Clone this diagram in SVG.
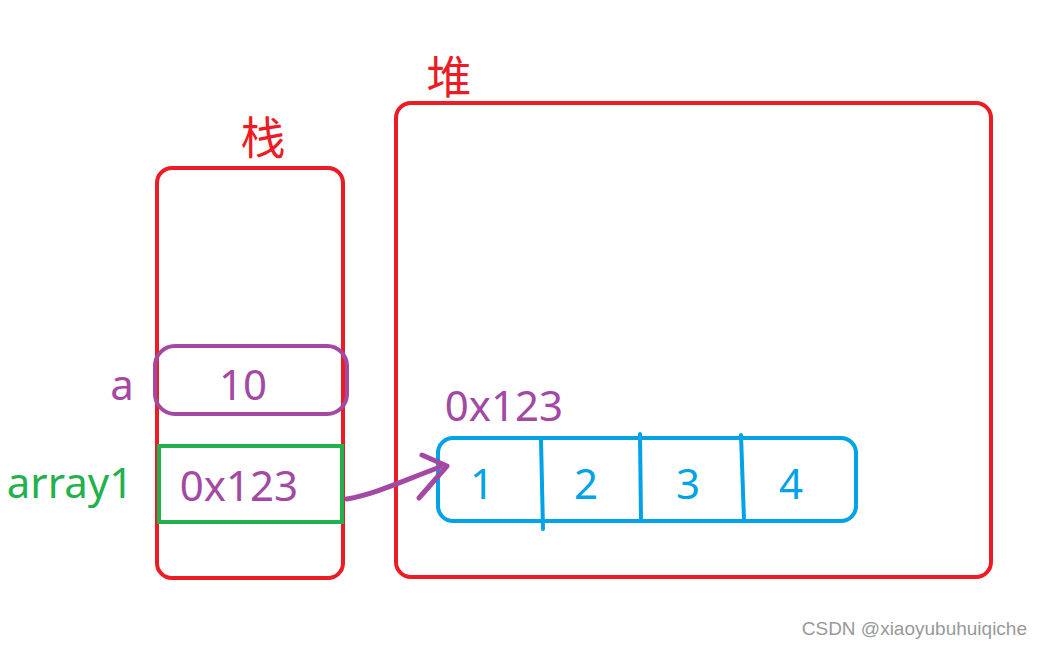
<svg xmlns="http://www.w3.org/2000/svg" width="1042" height="648" viewBox="0 0 1042 648">
<style>
.red{fill:none;stroke:#ed1c24;stroke-width:4}
.pur{fill:none;stroke:#a349a4;stroke-width:4}
.grn{fill:none;stroke:#22b14c;stroke-width:4}
.blu{fill:none;stroke:#00a2e8;stroke-width:4;stroke-linecap:round}
text{font-family:"Noto Sans","Noto Sans CJK SC",sans-serif}
.big{font-size:42px}
.cjk{font-size:45px;fill:#ed1c24;font-family:"Noto Sans CJK SC",sans-serif}
</style>
<rect width="1042" height="648" fill="#fff"/>
<g id="stack">
<rect class="red" x="157" y="168" width="186" height="410" rx="15"/>
<text class="cjk" x="263" y="155" text-anchor="middle">栈</text>
</g>
<g id="heap">
<rect class="red" x="396" y="103" width="595" height="474" rx="15"/>
<text class="cjk" x="449" y="94" text-anchor="middle">堆</text>
</g>
<g id="var-a">
<rect class="pur" x="155" y="346" width="192" height="68" rx="20"/>
<text class="big" x="243" y="400" text-anchor="middle" fill="#a349a4">10</text>
<text class="big" x="122" y="400" text-anchor="middle" fill="#a349a4">a</text>
</g>
<g id="var-array1">
<rect class="grn" x="159" y="446" width="183" height="76"/>
<text class="big" x="239" y="501" text-anchor="middle" fill="#a349a4">0x123</text>
<text class="big" x="70" y="498" text-anchor="middle" fill="#22b14c">array1</text>
</g>
<g id="array">
<text class="big" x="504" y="421" text-anchor="middle" fill="#a349a4">0x123</text>
<rect class="blu" x="438" y="438" width="418" height="83" rx="15"/>
<line class="blu" x1="541" y1="440" x2="543" y2="529"/>
<line class="blu" x1="640" y1="434" x2="641" y2="520"/>
<line class="blu" x1="741" y1="435" x2="744" y2="520"/>
<text class="big" x="482" y="499" text-anchor="middle" fill="#00a2e8">1</text>
<text class="big" x="586" y="499" text-anchor="middle" fill="#00a2e8">2</text>
<text class="big" x="688" y="499" text-anchor="middle" fill="#00a2e8">3</text>
<text class="big" x="791" y="499" text-anchor="middle" fill="#00a2e8">4</text>
</g>
<g id="connectors">
<path d="M347,499 C375,494 400,482 440,467" fill="none" stroke="#a349a4" stroke-width="5" stroke-linecap="round"/>
<path d="M422,455 L447,466 L419,498" fill="none" stroke="#a349a4" stroke-width="5" stroke-linecap="round" stroke-linejoin="round"/>
</g>
<text x="1027" y="635" text-anchor="end" font-size="19" fill="#999" style="font-family:'Liberation Sans',sans-serif">CSDN @xiaoyubuhuiqiche</text>
</svg>
